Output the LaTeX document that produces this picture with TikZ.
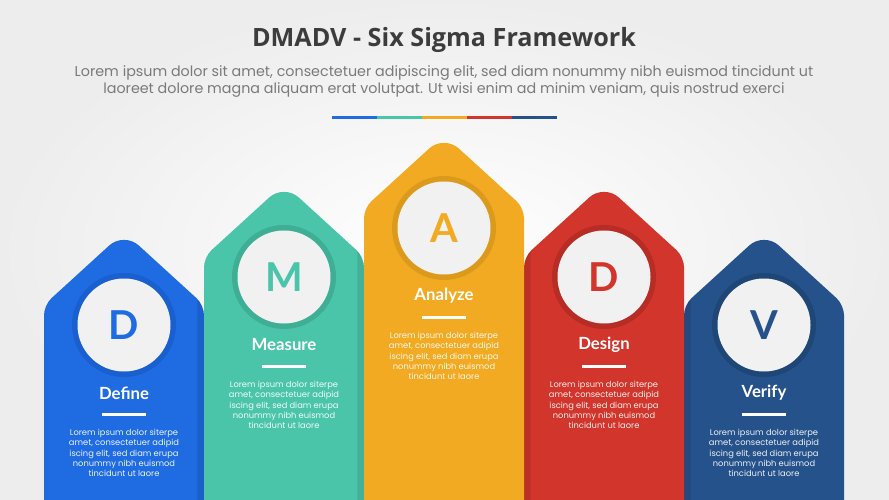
\documentclass[tikz,border=0pt]{standalone}
\usepackage{fontspec}
\setmainfont{Poppins}
\newfontfamily\headfont{Open Sans}
\newfontfamily\labelfont{Lato}
\usetikzlibrary{positioning}
\definecolor{defblue}{HTML}{1F6BE2}
\definecolor{defring}{HTML}{1A5FCF}
\definecolor{measteal}{HTML}{4BC5AA}
\definecolor{measring}{HTML}{3EAF95}
\definecolor{anayellow}{HTML}{F1AA21}
\definecolor{anaring}{HTML}{DB9A1C}
\definecolor{desred}{HTML}{D1352B}
\definecolor{desring}{HTML}{B72C25}
\definecolor{vernavy}{HTML}{25528A}
\definecolor{verring}{HTML}{1E4676}
\definecolor{discgray}{HTML}{F1F1F1}
\definecolor{titlegray}{HTML}{3C3C3C}
\definecolor{subgray}{HTML}{7A7A7A}
% column outline: centre x, apex y
\newcommand{\pillar}[2]{(#1-80,520) [rounded corners=3mm] -- (#1-80,#2+73) [rounded corners=6mm] -- (#1,#2) [rounded corners=3mm] -- (#1+80,#2+73) [sharp corners] -- (#1+80,520) -- cycle}
\tikzset{
  ring/.style={circle, minimum size=31.2mm, inner sep=0pt},
  disc/.style={circle, fill=discgray, minimum size=27.9mm, inner sep=0pt, font=\labelfont\bfseries\fontsize{34}{34}\selectfont},
  steptitle/.style={text=white, font=\labelfont\bfseries\fontsize{14.3}{17}\selectfont},
  stepbody/.style={text=white, text opacity=0.92, align=center, font=\fontsize{7.1}{8.9}\selectfont},
  stepbar/.style={white, line width=0.9mm},
  colshadow/.style={fill=black, opacity=0.1},
}
\begin{document}
\begin{tikzpicture}[x=0.3mm,y=-0.3mm]
\useasboundingbox (0,0) rectangle (889,500);
\shade[inner color=white, outer color=black!7] (0,0) rectangle (889,500);

% heading
\node[font=\headfont\bfseries\fontsize{21.5}{24}\selectfont, text=titlegray] (title) at (444,40) {DMADV - Six Sigma Framework};
\node[font=\fontsize{12.2}{14.6}\selectfont, text=subgray, align=center] (subtitle) at (444,81.5) {Lorem ipsum dolor sit amet, consectetuer adipiscing elit, sed diam nonummy nibh euismod tincidunt ut\\laoreet dolore magna aliquam erat volutpat. Ut wisi enim ad minim veniam, quis nostrud exerci};
\draw[line width=0.9mm, defblue] (332,117.5) -- (377,117.5);
\draw[line width=0.9mm, measteal] (377,117.5) -- (422,117.5);
\draw[line width=0.9mm, anayellow] (422,117.5) -- (467,117.5);
\draw[line width=0.9mm, desred] (467,117.5) -- (512,117.5);
\draw[line width=0.9mm, vernavy] (512,117.5) -- (557,117.5);

% outer columns
\fill[defblue] \pillar{124}{232};
\fill[vernavy] \pillar{764}{232};
% shadows of the inner columns on their neighbours
\begin{scope}
\clip \pillar{124}{232};
\fill[colshadow, xshift=-2mm] \pillar{284}{184};
\end{scope}
\begin{scope}
\clip \pillar{764}{232};
\fill[colshadow, xshift=2mm] \pillar{604}{184};
\end{scope}
% second and fourth columns
\fill[measteal] \pillar{284}{184};
\fill[desred] \pillar{604}{184};
\begin{scope}
\clip \pillar{284}{184};
\fill[colshadow, xshift=-2mm] \pillar{444}{135};
\end{scope}
\begin{scope}
\clip \pillar{604}{184};
\fill[colshadow, xshift=2mm] \pillar{444}{135};
\end{scope}
% middle column
\fill[anayellow] \pillar{444}{135};

% Define
\node[ring, fill=defring] (dring) at (124,325) {};
\node[disc, text=defblue] (dletter) at (dring) {D};
\node[steptitle] (define) at (124,393) {Define};
\draw[stepbar] (102,414) -- (146,414);
\node[stepbody] (definetext) at (124,453) {Lorem ipsum dolor siterpe\\amet, consectetuer adipid\\iscing elit, sed diam erupa\\nonummy nibh euismod\\tincidunt ut laore};

% Measure
\node[ring, fill=measring] (mring) at (284,277) {};
\node[disc, text=measteal] (mletter) at (mring) {M};
\node[steptitle] (measure) at (284,345) {Measure};
\draw[stepbar] (262,366) -- (306,366);
\node[stepbody] (measuretext) at (284,405) {Lorem ipsum dolor siterpe\\amet, consectetuer adipid\\iscing elit, sed diam erupa\\nonummy nibh euismod\\tincidunt ut laore};

% Analyze
\node[ring, fill=anaring] (aring) at (444,228) {};
\node[disc, text=anayellow] (aletter) at (aring) {A};
\node[steptitle] (analyze) at (444,296) {Analyze};
\draw[stepbar] (422,317) -- (466,317);
\node[stepbody] (analyzetext) at (444,356) {Lorem ipsum dolor siterpe\\amet, consectetuer adipid\\iscing elit, sed diam erupa\\nonummy nibh euismod\\tincidunt ut laore};

% Design
\node[ring, fill=desring] (dsring) at (604,277) {};
\node[disc, text=desred] (dsletter) at (dsring) {D};
\node[steptitle] (design) at (604,345) {Design};
\draw[stepbar] (582,366) -- (626,366);
\node[stepbody] (designtext) at (604,405) {Lorem ipsum dolor siterpe\\amet, consectetuer adipid\\iscing elit, sed diam erupa\\nonummy nibh euismod\\tincidunt ut laore};

% Verify
\node[ring, fill=verring] (vring) at (764,325) {};
\node[disc, text=vernavy] (vletter) at (vring) {V};
\node[steptitle] (verify) at (764,393) {Verify};
\draw[stepbar] (742,414) -- (786,414);
\node[stepbody] (verifytext) at (764,453) {Lorem ipsum dolor siterpe\\amet, consectetuer adipid\\iscing elit, sed diam erupa\\nonummy nibh euismod\\tincidunt ut laore};
\end{tikzpicture}
\end{document}
